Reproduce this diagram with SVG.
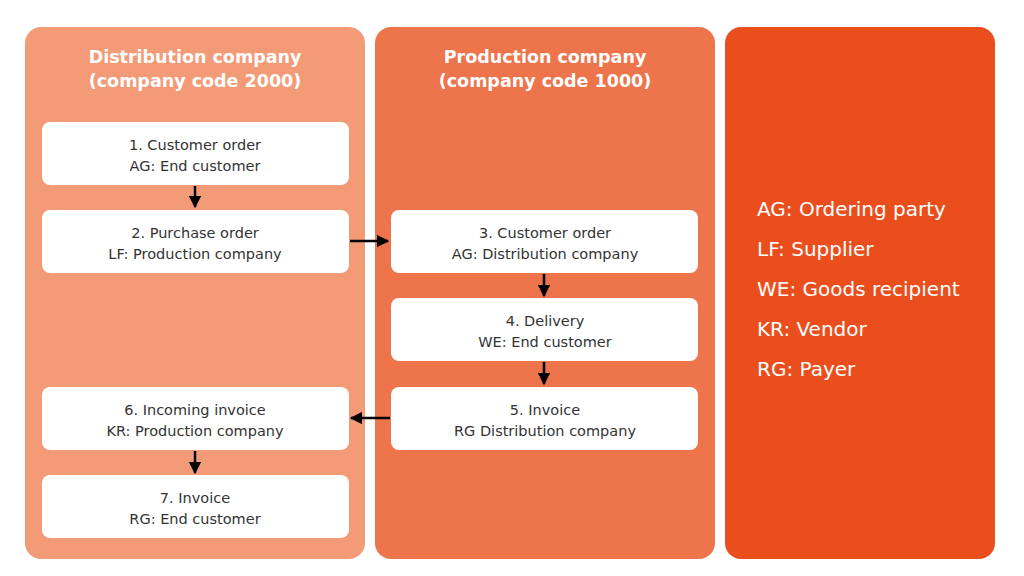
<svg xmlns="http://www.w3.org/2000/svg" width="1024" height="576" viewBox="0 0 1024 576">
<defs>
<marker id="ah" viewBox="0 0 10 10" refX="9" refY="5" markerWidth="5" markerHeight="5" orient="auto"><path d="M0,0 L10,5 L0,10 z" fill="#000"/></marker>
<style>
.box{fill:#fff;rx:8}
.t{font-family:"DejaVu Sans",Verdana,sans-serif;font-size:14.5px;fill:#333;text-anchor:middle}
.h{font-family:"DejaVu Sans",Verdana,sans-serif;font-size:17.5px;font-weight:bold;fill:#fff;text-anchor:middle}
.l{font-family:"DejaVu Sans",Verdana,sans-serif;font-size:20px;fill:#fff}
.c{stroke:#000;stroke-width:2.5;fill:none;marker-end:url(#ah)}
</style>
</defs>
<rect width="1024" height="576" fill="#fff"/>
<g id="panel-dist"><rect x="25" y="27" width="340" height="532" rx="16" fill="#F39A77"/>
<text class="h" x="195" y="63">Distribution company</text><text class="h" x="195" y="87">(company code 2000)</text></g>
<g id="panel-prod"><rect x="375" y="27" width="340" height="532" rx="16" fill="#EE744C"/>
<text class="h" x="545" y="63">Production company</text><text class="h" x="545" y="87">(company code 1000)</text></g>
<g id="panel-legend"><rect x="725" y="27" width="270" height="532" rx="16" fill="#EB4E1D"/>
<text class="l" x="757" y="216">AG: Ordering party</text>
<text class="l" x="757" y="256">LF: Supplier</text>
<text class="l" x="757" y="296">WE: Goods recipient</text>
<text class="l" x="757" y="336">KR: Vendor</text>
<text class="l" x="757" y="376">RG: Payer</text></g>
<g id="n1"><rect class="box" x="42" y="122" width="307" height="63"/><text class="t" x="195" y="150">1. Customer order</text><text class="t" x="195" y="171">AG: End customer</text></g>
<g id="n2"><rect class="box" x="42" y="210" width="307" height="63"/><text class="t" x="195" y="238">2. Purchase order</text><text class="t" x="195" y="259">LF: Production company</text></g>
<g id="n3"><rect class="box" x="391" y="210" width="307" height="63"/><text class="t" x="545" y="238">3. Customer order</text><text class="t" x="545" y="259">AG: Distribution company</text></g>
<g id="n4"><rect class="box" x="391" y="298" width="307" height="63"/><text class="t" x="545" y="326">4. Delivery</text><text class="t" x="545" y="347">WE: End customer</text></g>
<g id="n5"><rect class="box" x="391" y="387" width="307" height="63"/><text class="t" x="545" y="415">5. Invoice</text><text class="t" x="545" y="436">RG Distribution company</text></g>
<g id="n6"><rect class="box" x="42" y="387" width="307" height="63"/><text class="t" x="195" y="415">6. Incoming invoice</text><text class="t" x="195" y="436">KR: Production company</text></g>
<g id="n7"><rect class="box" x="42" y="475" width="307" height="63"/><text class="t" x="195" y="503">7. Invoice</text><text class="t" x="195" y="524">RG: End customer</text></g>
<g id="connectors">
<line class="c" x1="195" y1="186" x2="195" y2="207"/>
<line class="c" x1="350" y1="241" x2="388" y2="241"/>
<line class="c" x1="544" y1="274" x2="544" y2="296"/>
<line class="c" x1="544" y1="362" x2="544" y2="384"/>
<line class="c" x1="390" y1="418" x2="351" y2="418"/>
<line class="c" x1="195" y1="451" x2="195" y2="473"/>
</g>
</svg>
